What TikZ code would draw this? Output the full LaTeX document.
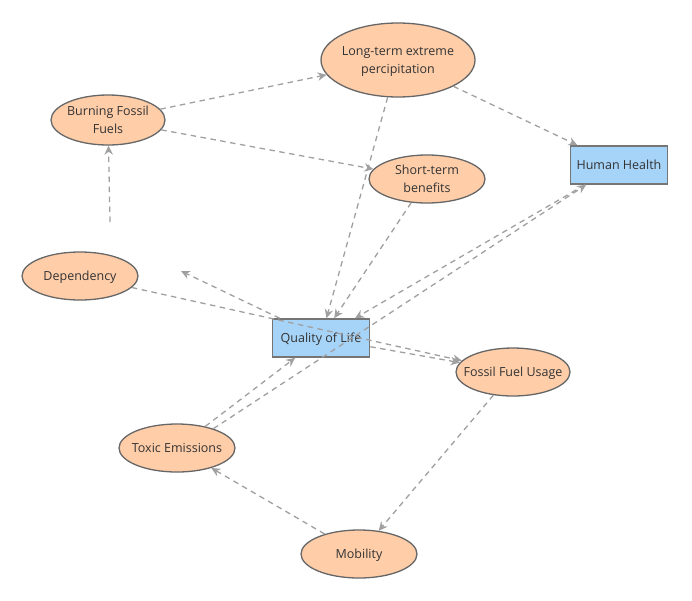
\documentclass[tikz,border=0pt]{standalone}
\usepackage{fontspec}
\setmainfont{Open Sans}
\usetikzlibrary{shapes.geometric,arrows.meta}
\definecolor{peach}{HTML}{FFCDA8}
\definecolor{skyb}{HTML}{A6D3F8}
\definecolor{bord}{HTML}{666666}
\definecolor{edgec}{HTML}{A0A0A0}
\definecolor{txt}{HTML}{333333}
\newcommand\zt[1]{\makebox[0pt]{\smash{\raisebox{-0.33em}{\begin{tabular}{@{}c@{}}#1\end{tabular}}}}}
\begin{document}
\begin{tikzpicture}[x=1pt,y=-1pt,
  oval/.style={ellipse,draw=bord,line width=1.3pt,fill=peach,inner sep=0pt,font=\fontsize{12.5}{17.5}\selectfont,text=txt},
  boxn/.style={rectangle,draw=bord!90,line width=1.6pt,fill=skyb,inner sep=0pt,font=\fontsize{12.5}{17.5}\selectfont,text=txt},
  link/.style={draw=edgec,line width=1.3pt,dash pattern=on 5.5pt off 4.5pt,-{Stealth[length=9pt,width=8.5pt,inset=3pt]}}]
\useasboundingbox (0,0) rectangle (692,600);
\node[oval,minimum width=154pt,minimum height=74pt] (long) at (398,60) {\zt{Long-term extreme\\percipitation}};
\node[oval,minimum width=114pt,minimum height=50pt] (burn) at (108,120) {\zt{Burning Fossil\\Fuels}};
\node[oval,minimum width=116pt,minimum height=48pt] (short) at (427,179) {\zt{Short-term\\benefits}};
\node[boxn,minimum width=97pt,minimum height=38pt] (hh) at (619,165) {\zt{Human Health}};
\node[oval,minimum width=116pt,minimum height=48pt] (dep) at (80,276) {\zt{Dependency}};
\node[boxn,minimum width=97pt,minimum height=38pt] (qol) at (321,338) {\zt{Quality of Life}};
\node[oval,minimum width=114pt,minimum height=48pt] (ffu) at (513,372) {\zt{Fossil Fuel Usage}};
\node[oval,minimum width=116pt,minimum height=48pt] (tox) at (177,448) {\zt{Toxic Emissions}};
\node[oval,minimum width=116pt,minimum height=48pt] (mob) at (359,554) {\zt{Mobility}};
\coordinate (dp1) at (110,222);
\coordinate (dp2) at (181,271);
\draw[link] (burn) -- (long);
\draw[link] (burn) -- (short);
\draw[link] (long) -- (hh);
\draw[link] (long) -- (qol);
\draw[link] (short) -- (qol);
\draw[link] (hh) -- (qol);
\draw[link] (tox) -- (qol);
\draw[link] (tox.28) -- (hh.211);
\draw[link] (dep) -- (ffu);
\draw[link] (qol) -- (ffu);
\draw[link] (qol) -- (dp2);
\draw[link] (dp1) -- (burn);
\draw[link] (ffu) -- (mob);
\draw[link] (mob) -- (tox);
\end{tikzpicture}
\end{document}
